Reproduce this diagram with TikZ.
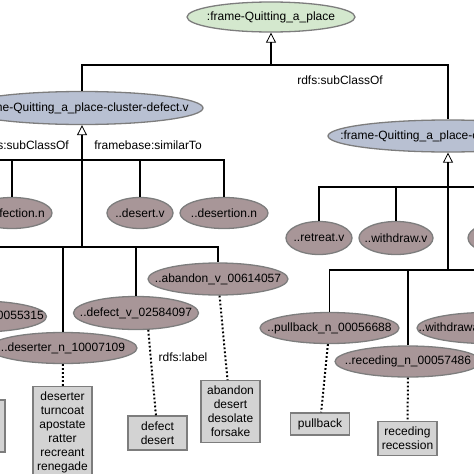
\documentclass[tikz,border=0pt]{standalone}
\usepackage{fontspec}
\setmainfont{Liberation Sans}
\usetikzlibrary{shapes.geometric,arrows.meta}
\definecolor{framegreen}{RGB}{212,232,206}
\definecolor{clusterblue}{RGB}{184,192,210}
\definecolor{synsetmauve}{RGB}{168,150,152}
\definecolor{labelgray}{RGB}{211,211,211}
\definecolor{rimgray}{RGB}{125,125,125}
\newcommand{\diagfont}{\fontsize{12}{14}\selectfont}
\newcommand{\ctext}[1]{\makebox[0pt]{#1}}
\tikzset{
  oval/.style={ellipse,draw=rimgray,line width=1.3pt,inner sep=0pt,minimum height=31pt},
  frameoval/.style={oval,fill=framegreen,minimum width=#1},
  clusteroval/.style={oval,fill=clusterblue,minimum width=#1,minimum height=33pt},
  synoval/.style={oval,fill=synsetmauve,minimum width=#1},
  wordbox/.style={draw=rimgray,fill=labelgray,line width=1.2pt,minimum width=59pt,inner xsep=2pt,inner ysep=5.5pt,align=center},
  tree/.style={line width=1.8pt},
  isa/.style={tree,-{Triangle[open,width=10pt,length=10pt,line width=0.8pt]}},
  haslabel/.style={line width=2pt,dash pattern=on 1.8pt off 2.2pt}
}
\begin{document}
\begin{tikzpicture}[x=1pt,y=-1pt,font=\diagfont]
  \useasboundingbox (0,0) rectangle (474,474);
  \clip (0,0) rectangle (474,474);
  % frames
  \node[frameoval=168pt,minimum height=30pt] (frame) at (271,17) {\ctext{:frame-Quitting\_a\_place}};
  \node[clusteroval=242pt] (defectcl) at (82,108) {\ctext{:frame-Quitting\_a\_place-cluster-defect.v}};
  \node[clusteroval=240pt,minimum height=32pt] (retreatcl) at (448,136) {\ctext{:frame-Quitting\_a\_place-cluster-retreat.v}};
  % lexical units
  \node[synoval=80pt] (defection) at (12,213) {\ctext{..defection.n}};
  \node[synoval=66pt] (desert) at (140,213) {\ctext{..desert.v}};
  \node[synoval=88pt] (desertion) at (224,213) {\ctext{..desertion.n}};
  \node[synoval=66pt,minimum height=33pt] (retreat) at (319,238) {\ctext{..retreat.v}};
  \node[synoval=74pt,minimum height=33pt] (withdraw) at (396,238) {\ctext{..withdraw.v}};
  \node[synoval=74pt,minimum height=33pt] (rightlu) at (505,238) {};
  % synsets
  \node[synoval=135pt] (desertionsyn) at (-21,316.5) {\ctext{..desertion\_n\_00055315}};
  \node[synoval=140pt,minimum height=32pt] (abandonsyn) at (218,279) {\ctext{..abandon\_v\_00614057}};
  \node[synoval=125pt,minimum height=33pt] (defectsyn) at (136,313) {\ctext{..defect\_v\_02584097}};
  \node[synoval=148pt] (desertersyn) at (63,348) {\ctext{..deserter\_n\_10007109}};
  \node[synoval=139pt] (pullbacksyn) at (329.5,328) {\ctext{..pullback\_n\_00056688}};
  \node[synoval=140pt] (withdrawsyn) at (487,328) {\ctext{..withdrawal\_n\_00053913}};
  \node[synoval=146pt] (recedingsyn) at (408,361.5) {\ctext{..receding\_n\_00057486}};
  % labels
  \node[wordbox,anchor=north] (deserterwords) at (62.5,386) {deserter\\turncoat\\apostate\\ratter\\recreant\\renegade};
  \node[wordbox] (defectwords) at (157.5,433) {defect\\desert};
  \node[wordbox] (abandonwords) at (230.5,411.5) {abandon\\desert\\desolate\\forsake};
  \node[wordbox] (pullbackwords) at (320,424) {pullback};
  \node[wordbox] (recedingwords) at (407.5,438.5) {receding\\recession};
  \node[wordbox,minimum width=62pt,minimum height=52pt] (leftwords) at (-26,426) {};
  % edge texts
  \node (subtop) at (340,80) {rdfs:subClassOf};
  \node (subleft) at (26,145) {rdfs:subClassOf};
  \node (similar) at (148,145) {framebase:similarTo};
  \node (rdfslabel) at (183,357) {rdfs:label};
  % junctions
  \coordinate (jtop) at (271,65);
  \coordinate (jdefect) at (82,160);
  \coordinate (jdefectsyn) at (82,247);
  \coordinate (jretreat) at (448,187);
  \coordinate (jretreatsyn) at (448,270);
  \coordinate (leftend) at (-10,160);
  % subclass tree
  \draw[isa] (jtop) -- (frame);
  \draw[tree] (defectcl) |- (jtop) -| (retreatcl);
  \draw[isa] (jdefect) -- (defectcl);
  \draw[tree] (leftend) -- (jdefect) -| (desertion);
  \draw[tree] (defection) |- (jdefect);
  \draw[tree] (desert) |- (jdefect);
  \draw[tree] (jdefect) -- (jdefectsyn);
  \draw[tree] (desertionsyn) |- (jdefectsyn) -| (abandonsyn);
  \draw[tree] (desertersyn) |- (jdefectsyn);
  \draw[tree] (defectsyn) |- (jdefectsyn);
  \draw[isa] (jretreat) -- (retreatcl);
  \draw[tree] (retreat) |- (jretreat) -| (rightlu);
  \draw[tree] (withdraw) |- (jretreat);
  \draw[tree] (jretreat) -- (jretreatsyn);
  \draw[tree] (pullbacksyn) |- (jretreatsyn) -| (withdrawsyn);
  \draw[tree] (recedingsyn) |- (jretreatsyn);
  % rdfs:label
  \draw[haslabel] (desertersyn) -- (deserterwords);
  \draw[haslabel] (defectsyn.-54) -- (defectwords);
  \draw[haslabel] (abandonsyn) -- (abandonwords);
  \draw[haslabel] (pullbacksyn) -- (pullbackwords);
  \draw[haslabel] (recedingsyn) -- (recedingwords);
  \draw[haslabel] (desertionsyn) -- (leftwords);
\end{tikzpicture}
\end{document}
